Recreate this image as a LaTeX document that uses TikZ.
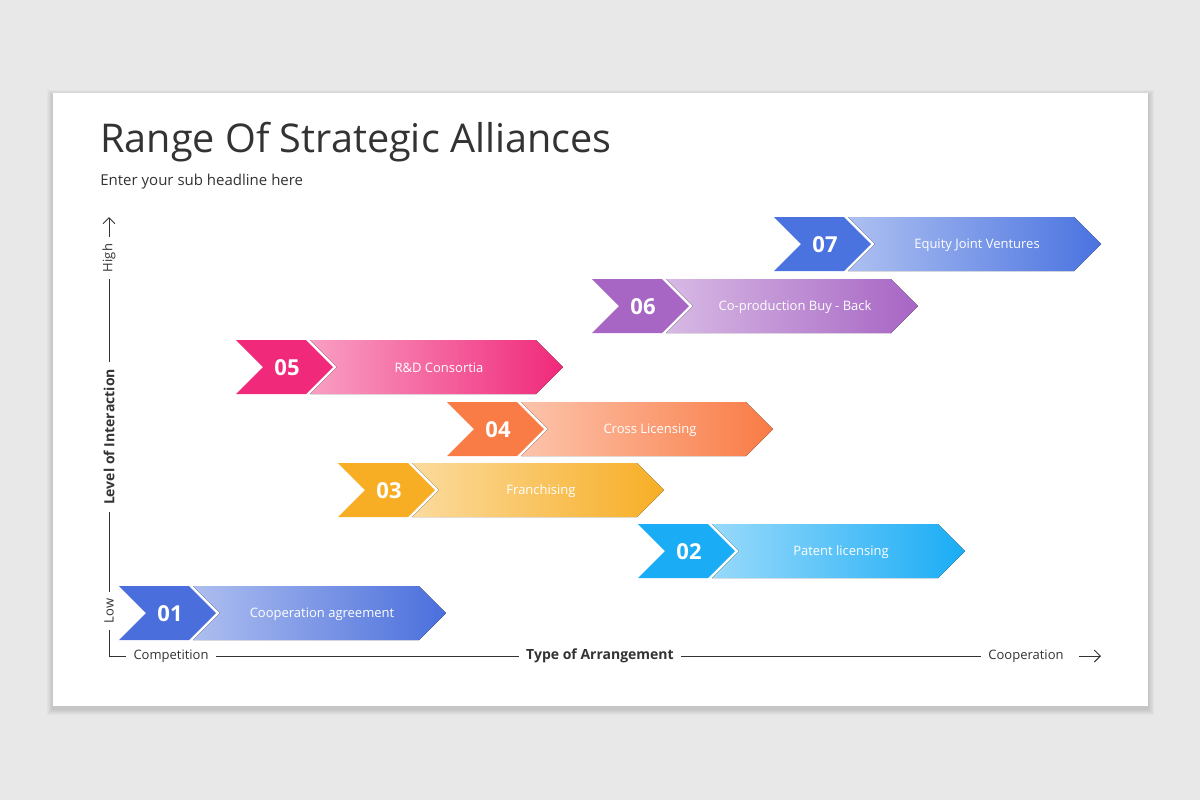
\documentclass[tikz,border=0pt]{standalone}
\usepackage{fontspec}
\setmainfont{Open Sans}
\usetikzlibrary{arrows.meta}
\definecolor{bg}{HTML}{E9E8E9}
\definecolor{ink}{HTML}{333333}
\definecolor{cA}{HTML}{4A6FDC}
\definecolor{cB}{HTML}{1AACF5}
\definecolor{cC}{HTML}{F7AE25}
\definecolor{cD}{HTML}{F97B45}
\definecolor{cE}{HTML}{F0297A}
\definecolor{cF}{HTML}{A765C4}
\definecolor{cG}{HTML}{4A73E0}
\tikzset{x=0.5pt,y=-0.5pt,
 numtxt/.style={text=white,font=\bfseries\fontsize{11}{12}\selectfont},
 labtxt/.style={text=white,font=\fontsize{6.5}{8}\selectfont},
 axtxt/.style={text=ink,font=\fontsize{6.5}{8}\selectfont},
 axline/.style={draw=ink,line width=0.5pt}}
\newcommand{\chev}[4]{% x0, xe, yc, colour
 \fill[#4] (#1,#3-27)--(#1+70,#3-27)--(#1+97,#3)--(#1+70,#3+27)--(#1,#3+27)--(#1+27,#3)--cycle;
 \fill[left color=#4!45,right color=#4] (#1+74,#3-27)--(#2-27,#3-27)--(#2,#3)--(#2-27,#3+27)--(#1+74,#3+27)--(#1+101,#3)--cycle;
}
\begin{document}
\begin{tikzpicture}
\useasboundingbox (0,0) rectangle (1200,800);
\fill[bg] (0,0) rectangle (1200,800);
\foreach \i in {1,...,6}{\fill[black,opacity=0.025] (53-\i,93-\i+3) rectangle (1148+\i,706+\i+3);}
\fill[white] (53,93) rectangle (1148,706);
\node[anchor=west,inner sep=0pt,text=ink,font=\fontsize{19.8}{21}\selectfont] (title) at (100,142) {Range Of Strategic Alliances};
\node[anchor=west,inner sep=0pt,text=ink,font=\fontsize{7.5}{9}\selectfont] (sub) at (100,182) {Enter your sub headline here};
\chev{774}{1101}{244}{cG}
\chev{592}{918}{306}{cF}
\chev{236}{563}{367}{cE}
\chev{447}{773}{429}{cD}
\chev{338}{664}{490}{cC}
\chev{638}{965}{551}{cB}
\chev{119}{446}{613}{cA}
\foreach \x/\y/\n/\l in {774/244/07/Equity Joint Ventures,592/306/06/Co-production Buy - Back,236/367/05/R\&D Consortia,447/429/04/Cross Licensing,338/490/03/Franchising,638/551/02/Patent licensing,119/613/01/Cooperation agreement}{
 \node[numtxt] (n\n) at (\x+51,\y+1) {\n};
 \node[labtxt] (l\n) at (\x+203,\y+1) {\l};
}
\node[axtxt,rotate=90] (high) at (109,258) {High};
\node[axtxt,rotate=90,font=\bfseries\fontsize{7}{8}\selectfont] (lvl) at (109,437) {Level of Interaction};
\node[axtxt,rotate=90] (low) at (109,611) {Low};
\coordinate (corner) at (109,656);
\coordinate (top) at (109,217);
\coordinate (right) at (1101,656);
\node[axtxt] (comp) at (171,656) {Competition};
\node[axtxt,font=\bfseries\fontsize{7}{8}\selectfont] (type) at (600,656) {Type of Arrangement};
\node[axtxt] (coop) at (1026,656) {Cooperation};
\draw[axline,-{Straight Barb[length=3pt]}] (high.east) -- (top);
\draw[axline] (high.west) -- (lvl.east);
\draw[axline] (lvl.west) -- (low.east);
\draw[axline] (low.west) -- (corner) -- (comp.west);
\draw[axline] (comp.east) -- (type.west);
\draw[axline] (type.east) -- (coop.west);
\draw[axline,-{Straight Barb[length=3pt]}] ([xshift=4pt]coop.east) -- (right);
\end{tikzpicture}
\end{document}
